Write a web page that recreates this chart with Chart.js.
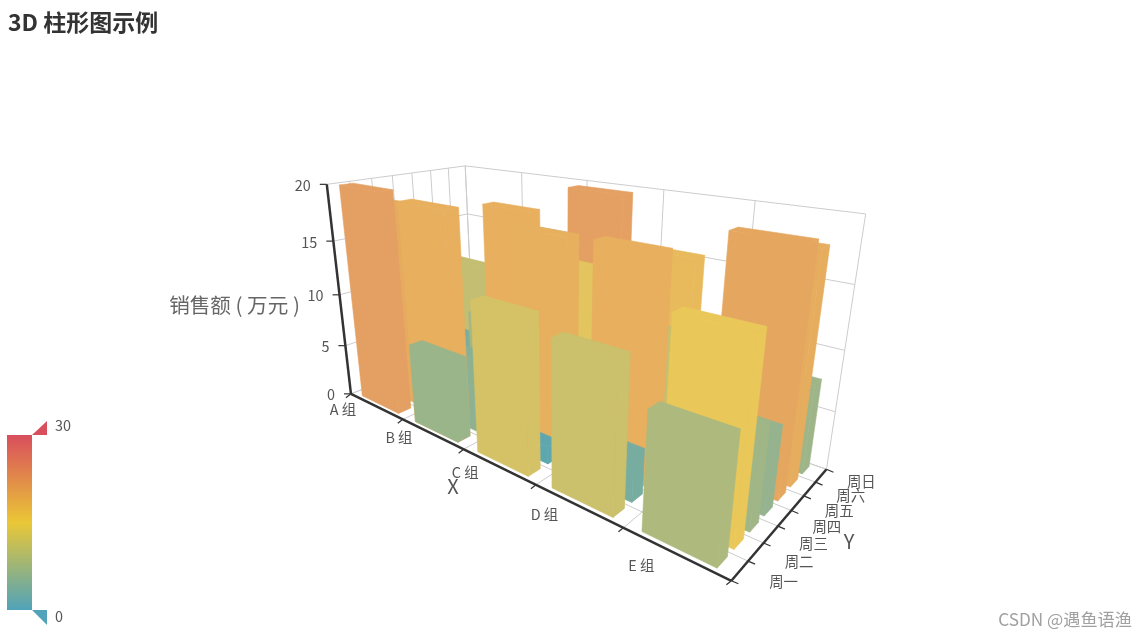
<!DOCTYPE html>
<html>
<head>
<meta charset="utf-8">
<title>3D 柱形图示例</title>
<script src="https://cdn.jsdelivr.net/npm/chart.js@4/dist/chart.umd.min.js"></script>
<style>
  html, body { margin: 0; padding: 0; background: #fff; }
  canvas { display: block; }
</style>
</head>
<body>
<canvas id="chart" width="1147" height="638"></canvas>
<script>
// Categories and ticks
const groups = ['A 组', 'B 组', 'C 组', 'D 组', 'E 组'];
const days = ['周一', '周二', '周三', '周四', '周五', '周六', '周日'];
const salesTicks = [0, 5, 10, 15, 20];

// Sales per group, one value per day
const groupA = [20, 18.5, 14, 12, 4.5, 11.2, 9];
const groupB = [7.3, 6, 5.5, 8.4, 18, 12, 10];
const groupC = [13, 1.5, 17.8, 7.5, 14.2, 20, 10];
const groupD = [12, 3.8, 18, 11.5, 16.6, 9, 9];
const groupE = [9.2, 15, 7.8, 6.6, 19, 18.2, 7.5];
const seriesValues = [groupA, groupB, groupC, groupD, groupE];

// B 周一 has a second, taller record at the same spot, its colour reads as about 18
const repeatGroup = [1];
const repeatDay = [0];
const repeatValue = [19.5];
const repeatTint = [18];

const VISUAL_MIN = 0;
const VISUAL_MAX = 30;
const SALES_MAX = 20;

const COLORS = {
    low: [80, 163, 186],
    mid: [234, 199, 54],
    high: [217, 78, 93],
    grid: '#cccccc',
    axis: '#333333',
    text: '#555555'
};
const BAR_W = 0.7;
const BAR_D = 0.6;

// Camera fit: box corners (x, y, z in 0..1) against where they sit on screen
const cameraFit = [
    [0, 0, 0, 351, 394],
    [1, 0, 0, 731, 581],
    [1, 1, 0, 827, 469],
    [0, 0, 1, 327, 184],
    [1, 1, 1, 866, 214],
    [0, 1, 1, 465, 166],
    [1, 1, 0.75, 855, 285],
    [1, 1, 0.5, 844, 350]
];

function solveCamera(fit) {
    const n = 11;
    const A = Array.from({ length: n }, () => new Array(n + 1).fill(0));
    const addRow = (r, b) => {
        for (let i = 0; i < n; i++) {
            for (let j = 0; j < n; j++) A[i][j] += r[i] * r[j];
            A[i][n] += r[i] * b;
        }
    };
    fit.forEach(([x, y, z, u, v]) => {
        addRow([x, y, z, 1, 0, 0, 0, 0, -u * x, -u * y, -u * z], u);
        addRow([0, 0, 0, 0, x, y, z, 1, -v * x, -v * y, -v * z], v);
    });
    for (let c = 0; c < n; c++) {
        let p = c;
        for (let r = c + 1; r < n; r++) if (Math.abs(A[r][c]) > Math.abs(A[p][c])) p = r;
        [A[c], A[p]] = [A[p], A[c]];
        for (let r = 0; r < n; r++) {
            if (r === c) continue;
            const f = A[r][c] / A[c][c];
            for (let k = c; k <= n; k++) A[r][k] -= f * A[c][k];
        }
    }
    return A.map((row, i) => row[n] / row[i]);
}

const cam = solveCamera(cameraFit);

function project(x, y, z) {
    const w = cam[8] * x + cam[9] * y + cam[10] * z + 1;
    return {
        x: (cam[0] * x + cam[1] * y + cam[2] * z + cam[3]) / w,
        y: (cam[4] * x + cam[5] * y + cam[6] * z + cam[7]) / w
    };
}

function visualColor(value) {
    const t = (value - VISUAL_MIN) / (VISUAL_MAX - VISUAL_MIN);
    const from = t < 0.5 ? COLORS.low : COLORS.mid;
    const to = t < 0.5 ? COLORS.mid : COLORS.high;
    const k = t < 0.5 ? t * 2 : (t - 0.5) * 2;
    const rgb = from.map((c, i) => c + (to[i] - c) * k);
    // the bars look washed out in the blue channel only
    rgb[2] = 50 + 0.72 * rgb[2];
    return `rgb(${rgb.map(Math.round).join(',')})`;
}

const datasets = [];

function addLine(a, b, color, width) {
    datasets.push({
        data: [a, b],
        showLine: true,
        borderColor: color,
        borderWidth: width,
        pointRadius: 0,
        fill: false,
        clip: false
    });
}

function addFace(points, color) {
    datasets.push({
        data: points.concat(points[0]),
        showLine: true,
        borderColor: color,
        borderWidth: 0.6,
        backgroundColor: color,
        pointRadius: 0,
        fill: 'shape',
        clip: false
    });
}

// Walls and floor
function addGrid() {
    for (let i = 0; i <= groups.length; i++) {
        const x = i / groups.length;
        addLine(project(x, 0, 0), project(x, 1, 0), COLORS.grid, 1);
        addLine(project(x, 1, 0), project(x, 1, 1), COLORS.grid, 1);
    }
    for (let i = 0; i <= days.length; i++) {
        const y = i / days.length;
        addLine(project(0, y, 0), project(1, y, 0), COLORS.grid, 1);
        addLine(project(0, y, 0), project(0, y, 1), COLORS.grid, 1);
    }
    salesTicks.forEach(tick => {
        const z = tick / SALES_MAX;
        addLine(project(0, 0, z), project(0, 1, z), COLORS.grid, 1);
        addLine(project(0, 1, z), project(1, 1, z), COLORS.grid, 1);
    });
}

function addBar(gi, di, value, tint) {
    const color = visualColor(tint === undefined ? value : tint);
    const cx = (gi + 0.5) / groups.length;
    const cy = (di + 0.5) / days.length;
    const hx = BAR_W / groups.length / 2;
    const hy = BAR_D / days.length / 2;
    const z = value / SALES_MAX;
    const x0 = cx - hx, x1 = cx + hx, y0 = cy - hy, y1 = cy + hy;
    addFace([project(x0, y0, 0), project(x1, y0, 0), project(x1, y0, z), project(x0, y0, z)], color);
    addFace([project(x1, y0, 0), project(x1, y1, 0), project(x1, y1, z), project(x1, y0, z)], color);
    addFace([project(x0, y0, z), project(x1, y0, z), project(x1, y1, z), project(x0, y1, z)], color);
}

function addAxes() {
    addLine(project(0, 0, 0), project(1, 0, 0), COLORS.axis, 2.5);
    addLine(project(1, 0, 0), project(1, 1, 0), COLORS.axis, 2.5);
    addLine(project(0, 0, 0), project(0, 0, 1), COLORS.axis, 2.5);
    for (let i = 0; i <= groups.length; i++) {
        const p = project(i / groups.length, 0, 0);
        addLine(p, { x: p.x - 5, y: p.y + 4 }, COLORS.axis, 1.2);
    }
    for (let i = 0; i <= days.length; i++) {
        const p = project(1, i / days.length, 0);
        addLine(p, { x: p.x + 7, y: p.y + 3 }, COLORS.axis, 1.2);
    }
    salesTicks.forEach(tick => {
        const p = project(0, 0, tick / SALES_MAX);
        addLine(p, { x: p.x - 7, y: p.y }, COLORS.axis, 1.2);
    });
}

addGrid();
// Far bars first, E 周一 is the one closest to the camera
seriesValues.forEach((values, gi) => {
    for (let di = days.length - 1; di >= 0; di--) {
        repeatValue.forEach((value, r) => {
            if (repeatGroup[r] === gi && repeatDay[r] === di) addBar(gi, di, value, repeatTint[r]);
        });
        addBar(gi, di, values[di]);
    }
});
addAxes();

// Chart.js draws the first dataset on top
datasets.reverse();

const labelsPlugin = {
    id: 'labels3d',
    afterDraw(chart) {
        const ctx = chart.ctx;
        const sx = v => chart.scales.x.getPixelForValue(v);
        const sy = v => chart.scales.y.getPixelForValue(v);
        const font = '"Noto Sans CJK SC", "Noto Sans", sans-serif';
        const put = (text, x, y, size, color, align, weight) => {
            ctx.font = `${weight || 'normal'} ${size}px ${font}`;
            ctx.fillStyle = color;
            ctx.textAlign = align || 'center';
            ctx.textBaseline = 'middle';
            ctx.fillText(text, sx(x), sy(y));
        };
        ctx.save();
        put('3D 柱形图示例', 8, 22, 23, '#333333', 'left', 'bold');

        salesTicks.forEach(tick => {
            const p = project(0, 0, tick / SALES_MAX);
            put(String(tick), p.x - 16, p.y + 1, 14.4, COLORS.text, 'right');
        });
        groups.forEach((name, i) => {
            const t = (i + 0.5) / groups.length;
            const p = project(t, 0, 0);
            put(name, p.x - 33, p.y + 3 + 12 * t * t, 14.4, COLORS.text);
        });
        days.forEach((name, i) => {
            const t = (i + 0.5) / days.length;
            const p = project(1, t, 0);
            put(name, p.x + 44 - 4 * t, p.y + 11 - 5 * t, 14.4, COLORS.text);
        });
        put('销售额 ( 万元 )', 234.5, 305, 20.6, '#666666');
        put('X', 453, 486, 20, COLORS.text);
        put('Y', 849, 541, 20, COLORS.text);

        // visual map
        const grad = ctx.createLinearGradient(0, sy(610), 0, sy(435));
        grad.addColorStop(0, 'rgb(80,163,186)');
        grad.addColorStop(0.5, 'rgb(234,199,54)');
        grad.addColorStop(1, 'rgb(217,78,93)');
        ctx.fillStyle = grad;
        ctx.fillRect(sx(7), sy(435), 25, 175);
        ctx.fillStyle = 'rgb(217,78,93)';
        ctx.beginPath();
        ctx.moveTo(sx(32), sy(435));
        ctx.lineTo(sx(47), sy(421));
        ctx.lineTo(sx(47), sy(435));
        ctx.fill();
        ctx.fillStyle = 'rgb(80,163,186)';
        ctx.beginPath();
        ctx.moveTo(sx(32), sy(610));
        ctx.lineTo(sx(47), sy(625));
        ctx.lineTo(sx(47), sy(610));
        ctx.fill();
        put(String(VISUAL_MAX), 55, 426, 14.4, COLORS.text, 'left');
        put(String(VISUAL_MIN), 55, 617, 14.4, COLORS.text, 'left');

        put('CSDN @遇鱼语渔', 1132, 619, 17.2, '#a0a0a0', 'right');
        ctx.restore();
    }
};

new Chart(document.getElementById('chart'), {
    type: 'scatter',
    data: { datasets: datasets },
    options: {
        responsive: false,
        animation: false,
        layout: { padding: 0 },
        elements: { line: { tension: 0 } },
        plugins: { legend: { display: false }, tooltip: { enabled: false } },
        scales: {
            x: { type: 'linear', display: false, min: 0, max: 1147 },
            y: { type: 'linear', display: false, min: 0, max: 638, reverse: true }
        }
    },
    plugins: [labelsPlugin]
});
</script>
</body>
</html>
